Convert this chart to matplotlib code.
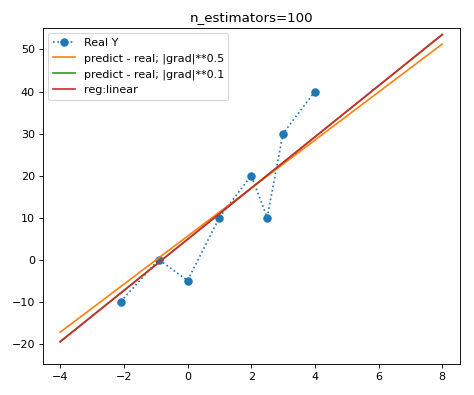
import numpy as np
import matplotlib
matplotlib.use("Agg")
import matplotlib.pyplot as plt

x_real = [-2.1, -0.9, 0, 1, 2, 2.5, 3, 4]
y_real = [-10, 0, -5, 10, 20, 10, 30, 40]

x_line = [-4, 8]
pred_05 = [-17.3, 51.3]
pred_01 = [-19.5, 53.5]
reg_linear = [-19.6, 53.6]

fig = plt.figure(figsize=(474 / 80, 395 / 80), dpi=80)
ax = fig.add_axes([0.09, 0.078, 0.88, 0.852])
ax.plot(x_real, y_real, 'o:', ms=6.6, label='Real Y')
ax.plot(x_line, pred_05, label='predict - real; |grad|**0.5')
ax.plot(x_line, pred_01, label='predict - real; |grad|**0.1')
ax.plot(x_line, reg_linear, label='reg:linear')
ax.set_xlim(-4.55, 8.55)
ax.set_ylim(-24.9, 55.2)
ax.set_title('n_estimators=100')
ax.legend(loc='upper left')
fig.savefig('out.png', dpi=80)
